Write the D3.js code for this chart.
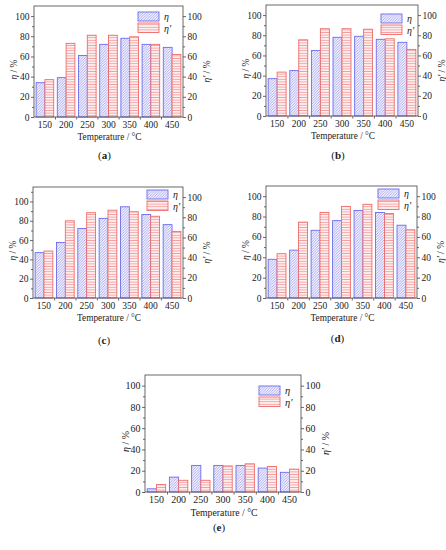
<!DOCTYPE html>
<html>
<head>
<meta charset="utf-8">
<script src="https://d3js.org/d3.v7.min.js"></script>
<style>
  body { margin: 0; background: #fff; }
  svg text { font-family: "Liberation Serif", serif; fill: #222; }
</style>
</head>
<body>
<svg id="chart" width="446" height="550"></svg>
<script>
// categories + values
const temps = ["150", "200", "250", "300", "350", "400", "450"];
const etaA  = [34, 39, 61, 72, 78, 72, 69];
const etaPA = [37, 73, 81, 81, 79.5, 72, 62];
const etaB  = [37, 45, 65, 78, 79, 76, 73];
const etaPB = [43.5, 75.5, 86.5, 86.5, 86, 76.5, 66];
const etaC  = [47, 57.5, 72, 82.5, 94.5, 86.5, 76];
const etaPC = [46.5, 76.5, 84.5, 87, 85.5, 81, 66];
const etaD  = [38, 47, 66.5, 76, 86, 84, 71.5];
const etaPD = [43.5, 74.5, 84, 90, 92, 83, 67];
const etaE  = [3, 14, 25, 25, 25, 22.5, 18.5];
const etaPE = [7, 11, 11, 24.5, 26.5, 24, 21.5];
const yTicks = [0, 20, 40, 60, 80, 100];
const minorTicks = [10, 30, 50, 70, 90, 110];
const panelLabels = ["(a)", "(b)", "(c)", "(d)", "(e)"];

// layout of the five sub-figures (frame box, axis maxima, legend offset)
const panels = [
  { eta: etaA, etaP: etaPA, x0: 34,  x1: 183, y0: 6,   y1: 117, lmax: 110, rmax: 110, lx: 104, ly: 6,  labY: 159, fs: 1 },
  { eta: etaB, etaP: etaPB, x0: 266, x1: 418, y0: 5,   y1: 116, lmax: 110, rmax: 110, lx: 115, ly: 9,  labY: 159, fs: 1 },
  { eta: etaC, etaP: etaPC, x0: 33,  x1: 183, y0: 187, y1: 298, lmax: 115, rmax: 110, lx: 114, ly: 3,  labY: 344, fs: 1 },
  { eta: etaD, etaP: etaPD, x0: 266, x1: 417, y0: 186, y1: 298, lmax: 110, rmax: 110, lx: 112, ly: 3,  labY: 342, fs: 1 },
  { eta: etaE, etaP: etaPE, x0: 145, x1: 301, y0: 375, y1: 492, lmax: 110, rmax: 110, lx: 114, ly: 11, labY: 531, fs: 1.05 }
];

const blue = "#6b6bef", red = "#ef6b6b";
const svg = d3.select("#chart");
const defs = svg.append("defs");

// diagonal hatch for eta
const pb = defs.append("pattern").attr("id", "hatchB")
  .attr("patternUnits", "userSpaceOnUse").attr("width", 2.6).attr("height", 2.6);
pb.append("rect").attr("width", 2.6).attr("height", 2.6).attr("fill", "#f3f3fd");
pb.append("path").attr("d", "M0,2.6 L2.6,0 M-0.65,0.65 L0.65,-0.65 M1.95,3.25 L3.25,1.95")
  .attr("stroke", "#8d8dee").attr("stroke-width", 0.7);

// horizontal hatch for eta'
const pr = defs.append("pattern").attr("id", "hatchR")
  .attr("patternUnits", "userSpaceOnUse").attr("width", 4).attr("height", 2.6);
pr.append("rect").attr("width", 4).attr("height", 2.6).attr("fill", "#fdf0f0");
pr.append("line").attr("x1", 0).attr("x2", 4).attr("y1", 1.3).attr("y2", 1.3)
  .attr("stroke", "#f29090").attr("stroke-width", 0.8);

panels.forEach(function (p, k) {
  const g = svg.append("g");
  const fs = p.fs;

  const x = d3.scaleBand().domain(temps).range([p.x0, p.x1])
    .paddingInner(0.17).paddingOuter(0.1);
  const x1 = d3.scaleBand().domain(["eta", "etaP"]).range([0, x.bandwidth()]);
  const yl = d3.scaleLinear().domain([0, p.lmax]).range([p.y1, p.y0]);
  const yr = d3.scaleLinear().domain([0, p.rmax]).range([p.y1, p.y0]);

  // bars
  g.selectAll(".b").data(p.eta).enter().append("rect")
    .attr("x", (d, i) => x(temps[i]) + x1("eta"))
    .attr("y", d => yl(d))
    .attr("width", x1.bandwidth())
    .attr("height", d => yl(0) - yl(d))
    .attr("fill", "url(#hatchB)").attr("stroke", blue).attr("stroke-width", 0.9);

  g.selectAll(".r").data(p.etaP).enter().append("rect")
    .attr("x", (d, i) => x(temps[i]) + x1("etaP"))
    .attr("y", d => yr(d))
    .attr("width", x1.bandwidth())
    .attr("height", d => yr(0) - yr(d))
    .attr("fill", "url(#hatchR)").attr("stroke", red).attr("stroke-width", 0.9);

  // frame
  g.append("rect").attr("x", p.x0).attr("y", p.y0)
    .attr("width", p.x1 - p.x0).attr("height", p.y1 - p.y0)
    .attr("fill", "none").attr("stroke", "#444").attr("stroke-width", 0.8);

  // left axis
  const la = g.append("g").attr("transform", "translate(" + p.x0 + ",0)")
    .call(d3.axisLeft(yl).tickValues(yTicks).tickSize(3).tickPadding(1.5));
  la.append("g").call(d3.axisLeft(yl).tickValues(minorTicks.filter(v => v < p.lmax)).tickSize(2).tickFormat(""));
  // right axis
  const ra = g.append("g").attr("transform", "translate(" + p.x1 + ",0)")
    .call(d3.axisRight(yr).tickValues(yTicks).tickSize(3).tickPadding(1.5));
  ra.append("g").call(d3.axisRight(yr).tickValues(minorTicks.filter(v => v < p.rmax)).tickSize(2).tickFormat(""));
  // bottom axis: labels at band centres, ticks between groups
  const ba = g.append("g").attr("transform", "translate(0," + p.y1 + ")")
    .call(d3.axisBottom(x).tickSize(0).tickPadding(4));
  const gap = (x.step() - x.bandwidth()) / 2;
  ba.selectAll(".edge").data(temps.slice(1)).enter().append("line")
    .attr("x1", t => x(t) - gap)
    .attr("x2", t => x(t) - gap)
    .attr("y1", 0).attr("y2", 2.5);

  [la, ra, ba].forEach(function (a) {
    a.attr("font-family", null);
    a.selectAll(".domain").remove();
    a.selectAll("line").attr("stroke", "#444").attr("stroke-width", 0.8);
    a.selectAll("text").attr("font-size", 9.5 * fs).attr("fill", "#222");
  });

  // axis titles
  const cx = (p.x0 + p.x1) / 2;
  g.append("text").attr("x", cx + 1).attr("y", p.y1 + 22.5 * fs)
    .attr("text-anchor", "middle").attr("font-size", 9.3 * fs)
    .text("Temperature / \u00B0C");

  const midY = (p.y0 + p.y1) / 2 + 8;
  const lt = g.append("text")
    .attr("transform", "translate(" + (p.x0 - 20) + "," + midY + ") rotate(-90)")
    .attr("text-anchor", "middle").attr("dy", "0.35em").attr("font-size", 9.5 * fs);
  lt.append("tspan").attr("font-style", "italic").text("\u03B7");
  lt.append("tspan").text(" / %");

  const rt = g.append("text")
    .attr("transform", "translate(" + (p.x1 + 24) + "," + (midY + 2) + ") rotate(-90)")
    .attr("text-anchor", "middle").attr("dy", "0.35em").attr("font-size", 9.5 * fs);
  rt.append("tspan").attr("font-style", "italic").text("\u03B7\u2032");
  rt.append("tspan").text(" / %");

  // legend
  const lx = p.x0 + p.lx, ly = p.y0 + p.ly;
  g.append("rect").attr("x", lx).attr("y", ly).attr("width", 21).attr("height", 9)
    .attr("fill", "url(#hatchB)").attr("stroke", blue).attr("stroke-width", 0.9);
  g.append("rect").attr("x", lx).attr("y", ly + 11).attr("width", 21).attr("height", 9.5)
    .attr("fill", "url(#hatchR)").attr("stroke", red).attr("stroke-width", 0.9);
  g.append("text").attr("x", lx + 26).attr("y", ly + 4.5).attr("dy", "0.35em")
    .attr("font-size", 10 * fs).attr("font-style", "italic").text("\u03B7");
  g.append("text").attr("x", lx + 26).attr("y", ly + 16).attr("dy", "0.35em")
    .attr("font-size", 10 * fs).attr("font-style", "italic").text("\u03B7\u2032");

  // sub-figure label
  const pl = g.append("text").attr("x", cx - 4).attr("y", p.labY)
    .attr("text-anchor", "middle").attr("font-size", 11);
  pl.append("tspan").text("(");
  pl.append("tspan").attr("font-weight", "bold").text(panelLabels[k].slice(1, 2));
  pl.append("tspan").text(")");
});
</script>
</body>
</html>
